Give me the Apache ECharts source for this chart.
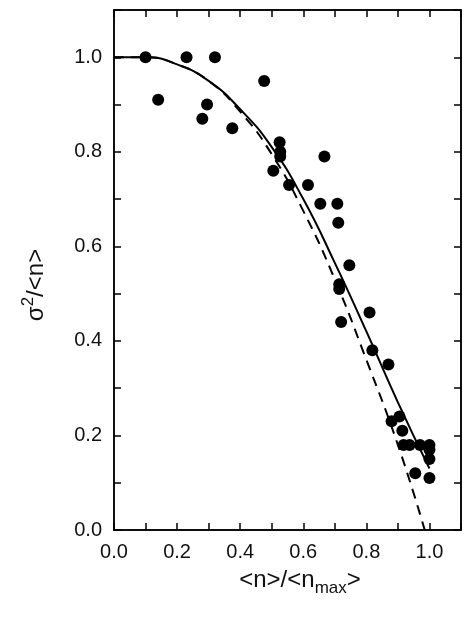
<!DOCTYPE html>
<html>
<head>
<meta charset="utf-8">
<script src="https://cdn.jsdelivr.net/npm/echarts@6/dist/echarts.min.js"></script>
<style>html,body{margin:0;padding:0;background:#fff}#chart{width:474px;height:623px}</style>
</head>
<body>
<div id="chart"></div>
<script>
// measured points
var pointsX = [0.10, 0.23, 0.32, 0.14, 0.295, 0.28, 0.375, 0.476, 0.525, 0.527, 0.527, 0.505, 0.555, 0.615, 0.667, 0.654, 0.708, 0.711, 0.746, 0.714, 0.714, 0.72, 0.81,
  0.819, 0.87, 0.88, 0.905, 0.914, 0.918, 0.937, 0.97, 1.0, 1.0, 1.0, 0.955, 1.0];
var pointsY = [1.0, 1.0, 1.0, 0.91, 0.90, 0.87, 0.85, 0.95, 0.82, 0.80, 0.79, 0.76, 0.73, 0.73, 0.79, 0.69, 0.69, 0.65, 0.56, 0.52, 0.51, 0.44, 0.46,
  0.38, 0.35, 0.23, 0.24, 0.21, 0.18, 0.18, 0.18, 0.18, 0.17, 0.15, 0.12, 0.11];
// solid curve
var solidX = [0, 0.1, 0.2, 0.3, 0.4, 0.5, 0.6, 0.7, 0.8, 0.9, 1.0];
var solidY = [1.0, 1.0, 0.985, 0.95, 0.89, 0.81, 0.70, 0.565, 0.42, 0.27, 0.13];
// dashed curve
var dashX = [0, 0.1, 0.2, 0.3, 0.4, 0.5, 0.6, 0.7, 0.8, 0.9, 0.985];
var dashY = [1.0, 1.0, 0.985, 0.95, 0.885, 0.795, 0.675, 0.53, 0.36, 0.18, 0.0];

function zip(a, b) {
  var out = [];
  for (var i = 0; i < a.length; i++) out.push([a[i], b[i]]);
  return out;
}

var myChart = echarts.init(document.getElementById('chart'));
var fontFam = 'Liberation Sans, Arial, sans-serif';

function axisCommon(pos, labels) {
  return {
    type: 'value',
    position: pos,
    min: 0,
    max: 1.1,
    interval: 0.2,
    axisLine: { show: true, onZero: false, lineStyle: { color: '#000', width: 1.5 } },
    axisTick: { show: true, inside: true, length: 7, lineStyle: { color: '#000', width: 1.5 } },
    minorTick: { show: true, splitNumber: 2, length: 7, lineStyle: { color: '#000', width: 1.5 } },
    splitLine: { show: false },
    axisLabel: {
      show: labels, inside: false, color: '#111', fontSize: 20, fontFamily: fontFam, margin: 12,
      formatter: function (v) { return v > 1.001 ? '' : v.toFixed(1); }
    }
  };
}

option = {
  animation: false,
  grid: { left: 114, right: 13, top: 10, bottom: 93, show: true, borderColor: '#000', borderWidth: 1.5 },
  xAxis: [axisCommon('bottom', true), axisCommon('top', false)],
  yAxis: [axisCommon('left', true), axisCommon('right', false)],
  graphic: [
    {
      type: 'text', x: 300, y: 580,
      style: {
        text: '{a|<n>/<n}{s|max}{a|>}',
        align: 'center', verticalAlign: 'middle',
        rich: {
          a: { fontSize: 24, fontFamily: fontFam, fill: '#111' },
          s: { fontSize: 17, fontFamily: fontFam, fill: '#111', padding: [16, 0, 0, 0] }
        }
      }
    },
    {
      type: 'text', x: 36, y: 285, rotation: Math.PI / 2,
      style: {
        text: '{a|σ}{p|2}{a|/<n>}',
        align: 'center', verticalAlign: 'middle',
        rich: {
          a: { fontSize: 24, fontFamily: fontFam, fill: '#111' },
          p: { fontSize: 17, fontFamily: fontFam, fill: '#111', padding: [0, 0, 16, 0] }
        }
      }
    }
  ],
  series: [
    {
      type: 'scatter', data: zip(pointsX, pointsY), symbolSize: 12,
      itemStyle: { color: '#000', opacity: 1 }, z: 3
    },
    {
      type: 'line', data: zip(solidX, solidY), smooth: true, showSymbol: false,
      lineStyle: { color: '#000', width: 2 }
    },
    {
      type: 'line', data: zip(dashX, dashY), smooth: true, showSymbol: false,
      lineStyle: { color: '#000', width: 2, type: [10, 7] }
    },
    { type: 'scatter', xAxisIndex: 1, yAxisIndex: 1, data: [] }
  ]
};

myChart.setOption(option);
</script>
</body>
</html>
